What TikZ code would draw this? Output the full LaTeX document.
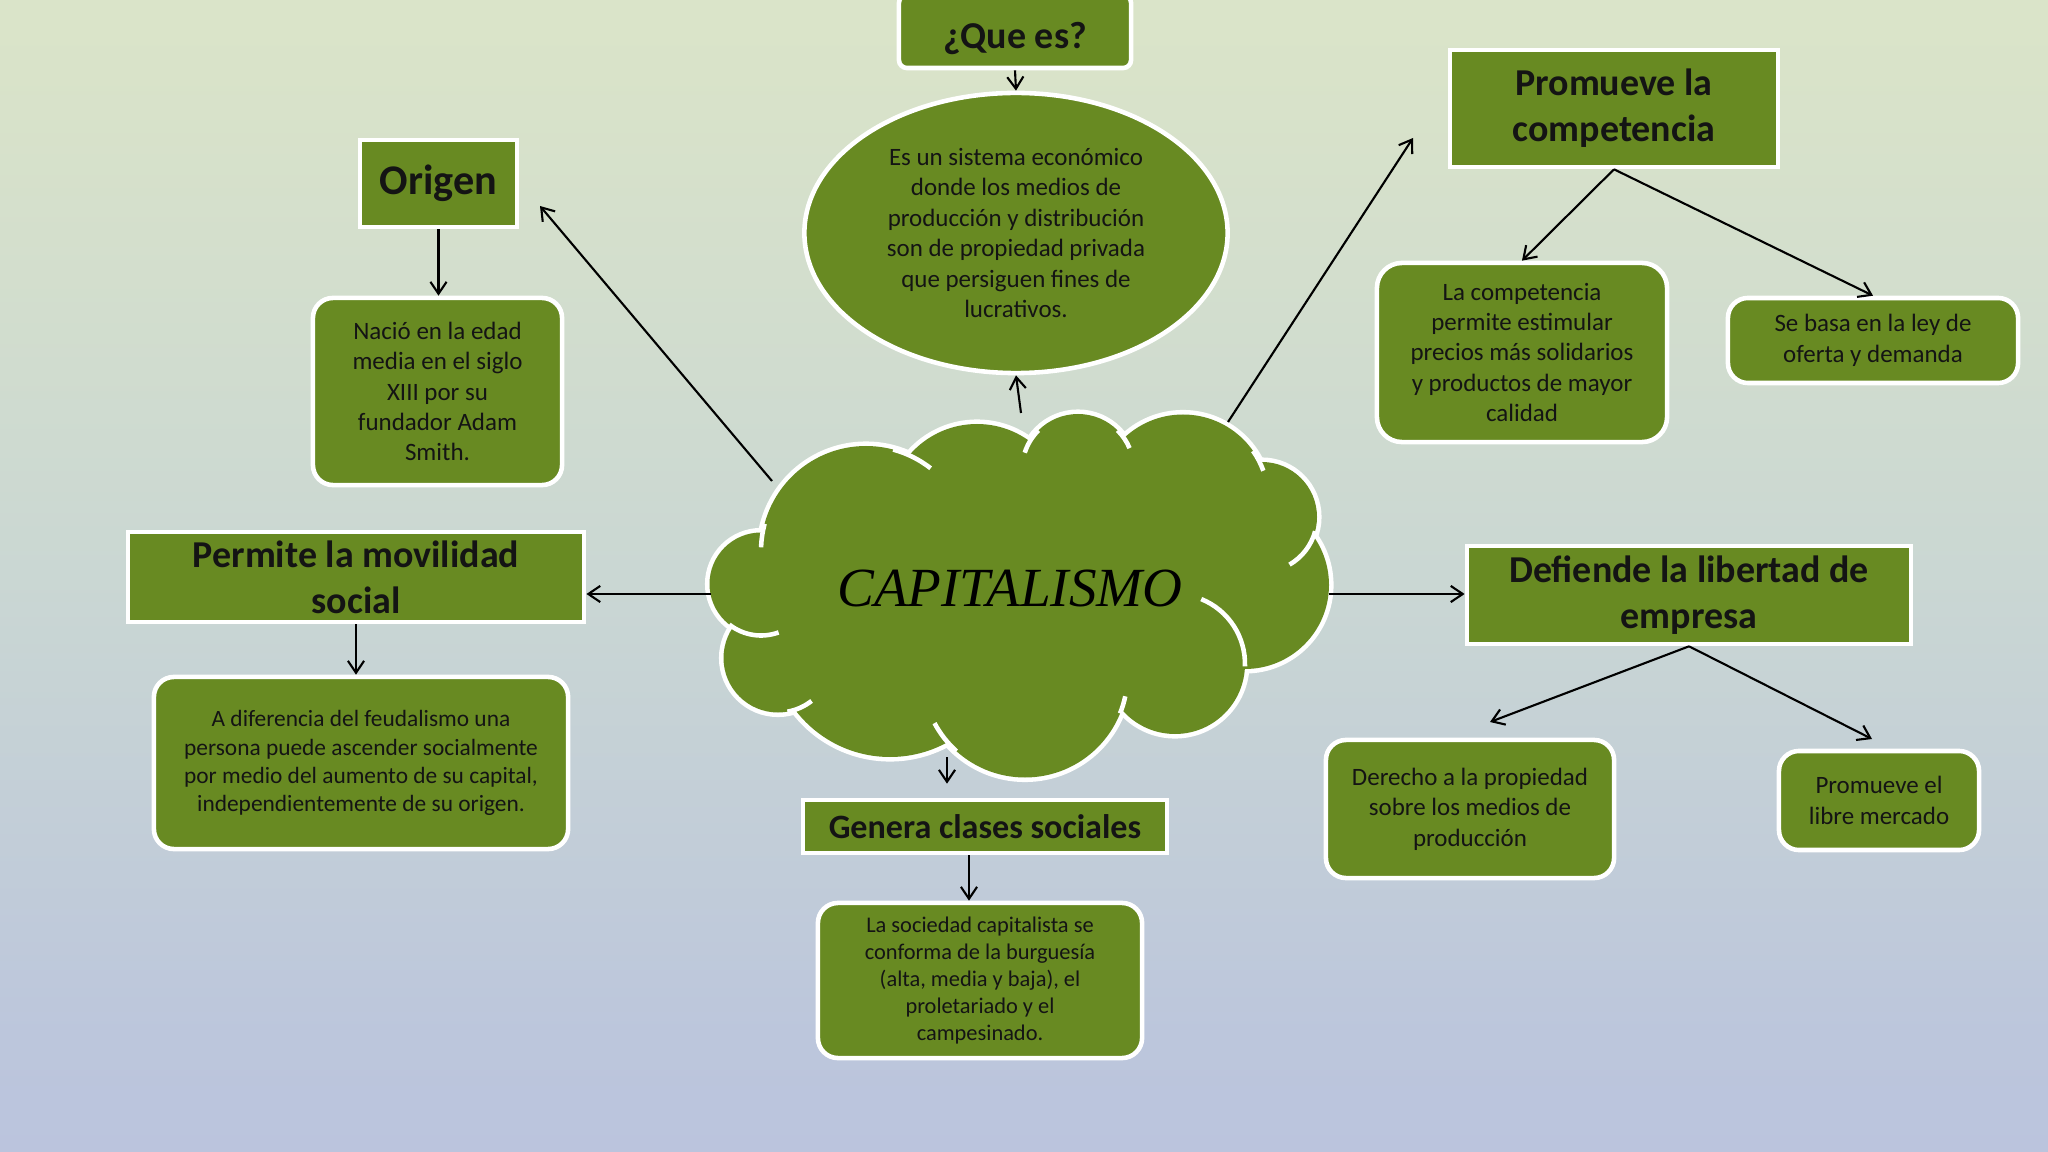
\documentclass[tikz,border=0pt]{standalone}
\usepackage{fontspec}
\setmainfont{Carlito}
\newfontfamily\capfont{Liberation Serif}
\usetikzlibrary{arrows.meta,shapes.geometric,calc}

\definecolor{capgreen}{RGB}{104,138,34}
\definecolor{bgtop}{HTML}{E6F1C6}
\definecolor{bghigh}{HTML}{D9E3C9}
\definecolor{bgmid}{HTML}{CAD7D3}
\definecolor{bgblue}{HTML}{BCC6DC}
\definecolor{bglow}{HTML}{B7C0E0}
\definecolor{bgbot}{HTML}{C9D3EB}
\pgfdeclareverticalshading{bgshade}{100bp}{color(0bp)=(bgbot); color(13bp)=(bglow);
  color(30bp)=(bgblue); color(50bp)=(bgmid); color(72bp)=(bghigh); color(100bp)=(bgtop)}

\def\cloudbumps{866/551/105, 977/513/89, 1078/470/56, 1183/500/85.5, 1262/517/55,
  1245/585/84, 1175/664/70, 1025/675/102.5, 890/638/119, 778/658/54.5, 761/584/51.5}

\begin{document}
\begin{tikzpicture}[
  x=0.01cm, y=-0.01cm,
  font=\fontsize{7.1}{8.65}\selectfont,
  box/.style={draw=white, line width=1.3pt, fill=capgreen, text=black!92,
              align=center, inner sep=0pt},
  rbox/.style={box, rounded corners=0.2cm},
  head/.style={box, font=\fontsize{10.8}{13}\selectfont\bfseries},
  arr/.style={-{Straight Barb[length=3.4pt,width=4.6pt]}, line width=0.6pt, black}
]
\shade[shading=bgshade] (0,0) rectangle (2048,1152);
\useasboundingbox (0,0) rectangle (2048,1152);

% cloud
\foreach \cx/\cy/\rr in \cloudbumps
  \draw[white, line width=2.6pt] (\cx,\cy) circle[radius=\rr];
\foreach \cx/\cy/\rr in \cloudbumps
  \fill[capgreen] (\cx,\cy) circle[radius=\rr];
\fill[capgreen] (866,551) -- (977,513) -- (1078,470) -- (1183,500) -- (1262,517)
  -- (1245,585) -- (1175,664) -- (1025,675) -- (890,638) -- (778,658) -- (761,584) -- cycle;
\foreach \cx/\cy/\rr/\sa/\ea in {866/551/105/195/182, 866/551/105/285/308,
    1078/470/56/225/198, 1078/470/56/315/337, 1183/500/85.5/325/340,
    1262/517/55/15/60, 1175/664/70/-68/2, 1025/675/102.5/22/12,
    1025/675/102.5/132/152, 778/658/54.5/80/52, 761/584/51.5/128/70}
  \draw[white, line width=1.3pt] (\cx,\cy) ++(\sa:\rr) arc[start angle=\sa, end angle=\ea, radius=\rr];

\node[font=\capfont\itshape\fontsize{15.7}{18}\selectfont] (cap) at (1010,588) {CAPITALISMO};
\coordinate (cl-n) at (1021,413);
\coordinate (cl-nw) at (772,481);
\coordinate (cl-w) at (711,594);
\coordinate (cl-s) at (947,757);
\coordinate (cl-e) at (1329,594);
\coordinate (cl-ne) at (1228,422);

\node[head, rounded corners=0.08cm, minimum width=2.32cm, minimum height=0.73cm,
      text height=0.42cm, text depth=0.08cm] (que) at (1015,31.5) {¿Que es?};
\node[box, ellipse, minimum width=4.23cm, minimum height=2.8cm] (ell) at (1016,233)
  {Es un sistema económico\\donde los medios de\\producción y distribución\\son de propiedad privada\\que persiguen fines de\\lucrativos.};
\node[head, font=\fontsize{12}{14}\selectfont\bfseries, minimum width=1.57cm, minimum height=0.87cm] (origen) at (438.5,183.5) {Origen};
\node[rbox, minimum width=2.49cm, minimum height=1.87cm] (nacio) at (437.5,391.5)
  {Nació en la edad\\media en el siglo\\XIII por su\\fundador Adam\\Smith.};
\node[head, minimum width=4.56cm, minimum height=0.9cm] (movil) at (356,577) {Permite la movilidad\\social};
\node[rbox, font=\fontsize{6.65}{8}\selectfont, minimum width=4.14cm, minimum height=1.72cm] (difer) at (361,763)
  {A diferencia del feudalismo una\\persona puede ascender socialmente\\por medio del aumento de su capital,\\independientemente de su origen.};
\node[head, font=\fontsize{9.7}{11}\selectfont\bfseries, minimum width=3.64cm, minimum height=0.53cm] (genera) at (985,826.5) {Genera clases sociales};
\node[rbox, font=\fontsize{6.37}{7.68}\selectfont, minimum width=3.24cm, minimum height=1.55cm] (socie) at (980,980.5)
  {La sociedad capitalista se\\conforma de la burguesía\\(alta, media y baja), el\\proletariado y el\\campesinado.};
\node[head, minimum width=4.44cm, minimum height=0.98cm] (defie) at (1689,595) {Defiende la libertad de\\empresa};
\node[rbox, minimum width=2.88cm, minimum height=1.38cm] (derecho) at (1470,809)
  {Derecho a la propiedad\\sobre los medios de\\producción};
\node[rbox, minimum width=2.0cm, minimum height=0.99cm] (libre) at (1879,800.5) {Promueve el\\libre mercado};
\node[head, minimum width=3.28cm, minimum height=1.17cm] (promcomp) at (1614,108.5) {Promueve la\\competencia};
\node[rbox, rounded corners=0.25cm, minimum width=2.9cm, minimum height=1.79cm] (lacomp) at (1522,352.5)
  {La competencia\\permite estimular\\precios más solidarios\\y productos de mayor\\calidad};
\node[rbox, minimum width=2.9cm, minimum height=0.85cm] (sebasa) at (1873,340.5) {Se basa en la ley de\\oferta y demanda};

\coordinate (tip-or) at (540,206);
\coordinate (tip-pc) at (1413,138);
\coordinate (tip-der) at (1490,722);
\coordinate (tip-lib) at (1872,739);

\draw[arr] (que.south) -- (ell.north);
\draw[arr] (cl-n) -- (ell.south);
\draw[arr] (cl-nw) -- (tip-or);
\draw[arr] (origen.south) -- (origen.south |- nacio.north);
\draw[arr] (cl-w) -- (movil.east |- cl-w);
\draw[arr] (movil.south) -- (movil.south |- difer.north);
\draw[arr, shorten >=0.14cm] (cl-s) -- (cl-s |- genera.north);
\draw[arr] ([xshift=-0.16cm]genera.south) -- ([xshift=-0.16cm]genera.south |- socie.north);
\draw[arr] (cl-e) -- (defie.west |- cl-e);
\draw[arr] (defie.south) -- (tip-der);
\draw[arr] (defie.south) -- (tip-lib);
\draw[arr] (cl-ne) -- (tip-pc);
\draw[arr] (promcomp.south) -- (lacomp.north);
\draw[arr] (promcomp.south) -- (sebasa.north);
\end{tikzpicture}
\end{document}
